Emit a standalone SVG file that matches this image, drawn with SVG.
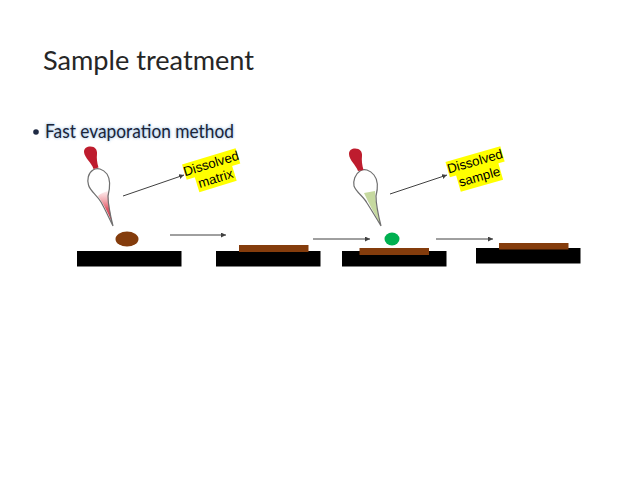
<svg xmlns="http://www.w3.org/2000/svg" width="638" height="479" viewBox="0 0 638 479">
<defs>
<style>
.lbl{font-family:"Liberation Sans",Arial,sans-serif;font-size:13.2px;fill:#000;text-anchor:middle}
.hl{fill:#ffff00}
.bar{fill:#000}
.layer{fill:#843c0c}
.conn{stroke:#404040;stroke-width:1;fill:none;marker-end:url(#ah)}
.glass{fill:none;stroke:#6f6f6f;stroke-width:1.2}
.head{font-family:Lato,"Noto Sans",sans-serif;fill:#262626}
</style>
<marker id="ah" markerWidth="6" markerHeight="6" refX="5" refY="2.5" orient="auto" markerUnits="userSpaceOnUse"><path d="M0 0L5 2.500L0 5Z" fill="#404040"/></marker>
<linearGradient id="redfill" x1="0" y1="0" x2="0" y2="1"><stop offset="0" stop-color="#f08088" stop-opacity="0.15"/><stop offset="0.5" stop-color="#dc4050" stop-opacity="0.85"/><stop offset="1" stop-color="#b02030"/></linearGradient>
<filter id="glow" x="-5%" y="-30%" width="110%" height="160%"><feGaussianBlur stdDeviation="1.8"/></filter>
<filter id="soft" x="-10%" y="-10%" width="120%" height="120%"><feGaussianBlur stdDeviation="0.4"/></filter>
</defs>
<rect width="638" height="479" fill="#fff"/>
<g id="title"><text class="head" x="43" y="70" font-size="26.5" textLength="211" lengthAdjust="spacingAndGlyphs">Sample treatment</text></g>
<g id="bullet">
<text x="45" y="138" font-family="Lato,'Noto Sans',sans-serif" font-size="19" font-weight="500" fill="#5b9bd5" opacity="0.75" filter="url(#glow)" textLength="189" lengthAdjust="spacingAndGlyphs">Fast evaporation method</text>
<circle cx="36" cy="132" r="2.800" fill="#1f2a44"/>
<text x="45" y="138" font-family="Lato,'Noto Sans',sans-serif" font-size="19" fill="#1a2438" textLength="189" lengthAdjust="spacingAndGlyphs">Fast evaporation method</text>
</g>
<g id="pipette-matrix" filter="url(#soft)">
<path d="M98 196C101 193 105 192 108.500 191C108 202 110 214 113 226C110 216 104 205 98 196Z" fill="url(#redfill)"/>
<path class="glass" d="M113 226C110 214 108 204 108 196C110 188 111 180 107 174C103 169 97 167 93 170C88 173 87 180 88.500 185C90 191 97 195 101 202C105 209 109 218 113 226Z"/>
<path d="M93.500 169C92 163 84.500 158 84 152C84 148 87 146.500 90.500 146.500C95 146.500 97.500 150 97 154C96.500 158 97 163 98.500 167.500Z" fill="#be1e2d"/>
</g>
<g id="pipette-sample" filter="url(#soft)">
<path d="M364 193L375 191C375.500 203 378 215 381 226C376 216 369 204 364 193Z" fill="#c6d9a0"/>
<path class="glass" d="M381 226C378 214 376 204 376 196C378 188 378 180 374 175C370 170 364 168 360 171C355 174 353 181 354 186C356 192 363 196 367 203C372 211 377 219 381 226Z"/>
<path d="M358 171C356 165 349 160 349 154C349 150 352 148.500 355 148.500C360 148.500 362.500 152 362 156C361.500 160 362 165 363.500 170Z" fill="#be1e2d"/>
</g>
<g id="label-matrix">
<g transform="translate(213.200 170.700) rotate(-17)">
<rect class="hl" x="-28" y="-15" width="56" height="16"/>
<rect class="hl" x="-19.500" y="0" width="39" height="16.500"/>
<text class="lbl" y="-3">Dissolved</text>
<text class="lbl" y="12.500">matrix</text>
</g>
</g>
<g id="label-sample">
<g transform="translate(477 168.500) rotate(-16)">
<rect class="hl" x="-28.500" y="-15" width="57" height="16"/>
<rect class="hl" x="-22" y="0" width="44" height="18"/>
<text class="lbl" y="-3">Dissolved</text>
<text class="lbl" y="13">sample</text>
</g>
</g>
<g id="plate-1"><rect class="bar" x="77" y="251" width="104.500" height="15.500"/><ellipse cx="127" cy="239" rx="11.500" ry="7.500" fill="#843c0c"/></g>
<g id="plate-2"><rect class="bar" x="216" y="251" width="104.500" height="15.500"/><rect class="layer" x="239" y="245" width="69.500" height="7"/></g>
<g id="plate-3"><rect class="bar" x="342" y="251" width="104.500" height="15.500"/><rect class="layer" x="359.500" y="248" width="69.500" height="7"/><ellipse cx="392" cy="239" rx="7.500" ry="6.500" fill="#00b050"/></g>
<g id="plate-4"><rect class="bar" x="476" y="248" width="104.500" height="15.500"/><rect class="layer" x="499" y="243" width="69.500" height="6.500"/></g>
<g id="connectors">
<line class="conn" x1="123" y1="196" x2="184" y2="175"/>
<line class="conn" x1="170" y1="235" x2="226" y2="235"/>
<line class="conn" x1="313" y1="239" x2="370" y2="239"/>
<line class="conn" x1="390" y1="194" x2="447" y2="175"/>
<line class="conn" x1="436" y1="239" x2="493" y2="239"/>
</g>
</svg>
